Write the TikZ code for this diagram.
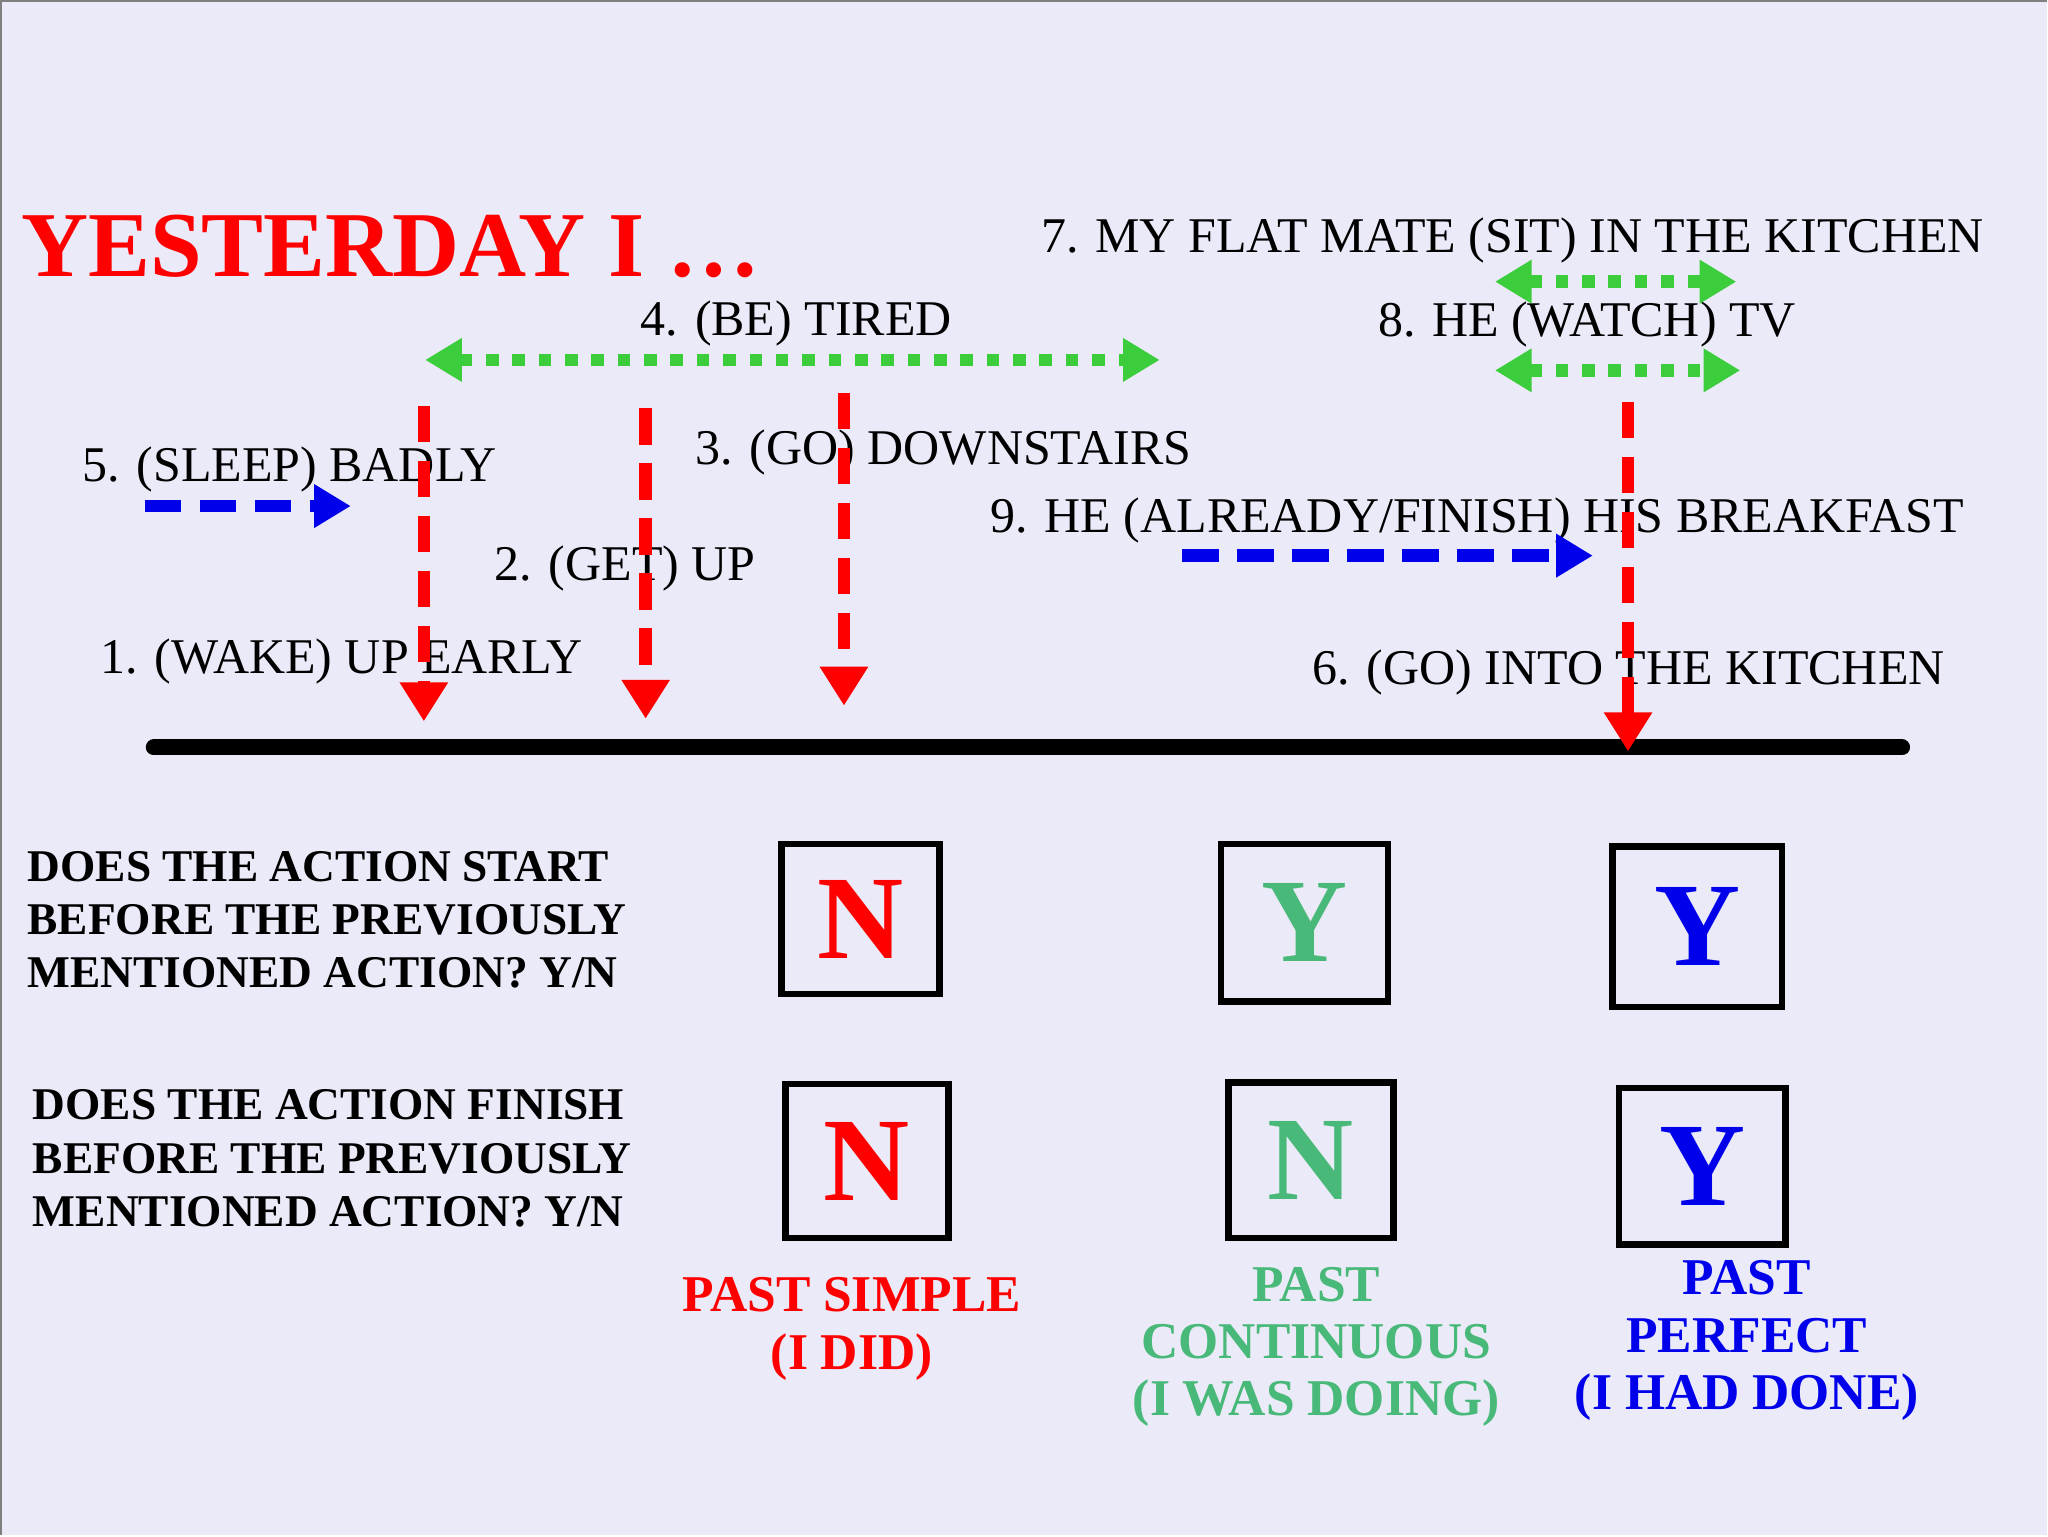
\documentclass[tikz,border=0pt]{standalone}
\usepackage{fontspec}
\setmainfont{Liberation Serif}
\usetikzlibrary{arrows.meta}
\definecolor{bg}{RGB}{234,234,248}
\definecolor{rd}{RGB}{255,0,0}
\definecolor{gn}{RGB}{60,205,60}
\definecolor{tg}{RGB}{72,185,120}
\definecolor{bl}{RGB}{0,0,235}
\tikzset{
 lab/.style={anchor=base west,inner sep=0,font=\fontsize{21.8}{21.8}\selectfont},
 qst/.style={anchor=north west,inner sep=0,align=left,font=\bfseries\fontsize{19.8}{23.3}\selectfont},
 redarr/.style={draw=rd,line width=5.5pt,dash pattern=on 16pt off 8pt,-{Triangle[length=17pt,width=20pt]}},
 bluearr/.style={draw=bl,line width=5.5pt,dash pattern=on 16pt off 8pt,-{Triangle[length=16pt,width=18pt]}},
 grnarr/.style={draw=gn,line width=5.5pt,dash pattern=on 5.5pt off 6pt,{Triangle[length=16pt,width=18pt]}-{Triangle[length=16pt,width=18pt]}},
 box/.style={draw=black,line width=3pt,minimum width=#1,inner sep=0},
 big/.style={font=\bfseries\fontsize{52}{52}\selectfont},
 tname/.style={align=center,font=\bfseries\fontsize{22.5}{25}\selectfont,anchor=north,inner sep=0},
}
\begin{document}
\begin{tikzpicture}[x=0.02cm,y=-0.02cm]
\fill[bg] (0,0) rectangle (1568,1176);
\draw[gray,line width=1pt] (0,1176) -- (0,0) -- (1568,0);
\node[anchor=base west,inner sep=0,text=rd,font=\bfseries\fontsize{40.5}{40.5}\selectfont] (title) at (15,211) {YESTERDAY I \dots};
\node[lab] (t7) at (797,193) {7. MY FLAT MATE (SIT) IN THE KITCHEN};
\node[lab] (t8) at (1055,257) {8. HE (WATCH) TV};
\node[lab] (t4) at (490,256) {4. (BE) TIRED};
\node[lab] (t5) at (62,368) {5. (SLEEP) BADLY};
\node[lab] (t3) at (532,355) {3. (GO) DOWNSTAIRS};
\node[lab] (t9) at (758,407) {9. HE (ALREADY/FINISH) HIS BREAKFAST};
\node[lab] (t2) at (378,444) {2. (GET) UP};
\node[lab] (t1) at (76,515) {1. (WAKE) UP EARLY};
\node[lab] (t6) at (1005,524) {6. (GO) INTO THE KITCHEN};
% timeline
\coordinate (l0) at (117,572); \coordinate (l1) at (1457,572);
\draw[line width=7pt,line cap=round] (l0) -- (l1);
% green
\coordinate (g1a) at (1145,215); \coordinate (g1b) at (1330,215);
\coordinate (g2a) at (1145,283); \coordinate (g2b) at (1333,283);
\coordinate (g3a) at (325,275); \coordinate (g3b) at (888,275);
\draw[grnarr] (g1a) -- (g1b);
\draw[grnarr] (g2a) -- (g2b);
\draw[grnarr] (g3a) -- (g3b);
% blue
\coordinate (b1a) at (110,387); \coordinate (b1b) at (268,387);
\coordinate (b2a) at (905,425); \coordinate (b2b) at (1220,425);
\draw[bluearr] (b1a) -- (b1b);
\draw[bluearr] (b2a) -- (b2b);
% red
\coordinate (r1a) at (324,310); \coordinate (r1b) at (324,552);
\coordinate (r2a) at (494,312); \coordinate (r2b) at (494,550);
\coordinate (r3a) at (646,300); \coordinate (r3b) at (646,540);
\coordinate (r4a) at (1247,307); \coordinate (r4b) at (1247,575);
\draw[redarr] (r1a) -- (r1b);
\draw[redarr] (r2a) -- (r2b);
\draw[redarr] (r3a) -- (r3b);
\draw[redarr] (r4a) -- (r4b);
% questions
\node[qst] (q1) at (20,651) {DOES THE ACTION START\\BEFORE THE PREVIOUSLY\\MENTIONED ACTION? Y/N};
\node[qst] (q2) at (24,834) {DOES THE ACTION FINISH\\BEFORE THE PREVIOUSLY\\MENTIONED ACTION? Y/N};
% boxes
\node[box=2.42cm,minimum height=2.3cm,big,text=rd] (b11) at (658.5,703.5) {N};
\node[box=2.56cm,minimum height=2.42cm,big,text=tg] (b12) at (999,706.5) {Y};
\node[box=2.6cm,minimum height=2.46cm,big,text=bl] (b13) at (1300,709.5) {Y};
\node[box=2.5cm,minimum height=2.36cm,big,text=rd] (b21) at (663.5,889) {N};
\node[box=2.52cm,minimum height=2.38cm,big,text=tg] (b22) at (1004,888.5) {N};
\node[box=2.56cm,minimum height=2.4cm,big,text=bl] (b23) at (1304,893) {Y};
\node[tname,text=rd] (n1) at (652,978) {PAST SIMPLE\\(I DID)};
\node[tname,text=tg] (n2) at (1008,970) {PAST\\CONTINUOUS\\(I WAS DOING)};
\node[tname,text=bl] (n3) at (1338,965) {PAST\\PERFECT\\(I HAD DONE)};
\end{tikzpicture}
\end{document}
